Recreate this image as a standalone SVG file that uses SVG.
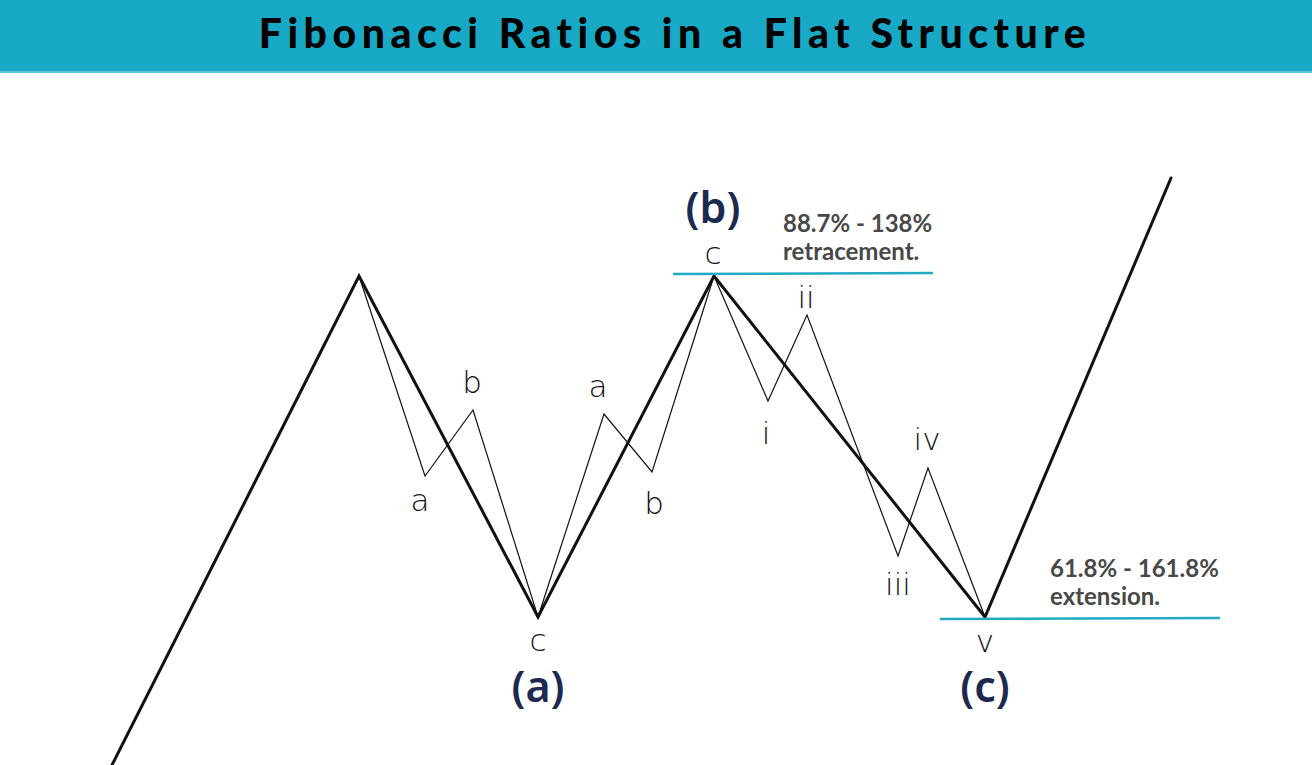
<svg xmlns="http://www.w3.org/2000/svg" width="1312" height="765" viewBox="0 0 1312 765">
<style>
.thick{fill:none;stroke:#111;stroke-width:3;stroke-linejoin:miter;stroke-linecap:round}
.thin{fill:none;stroke:#111;stroke-width:1.2;stroke-linejoin:miter}
.lvl{stroke:#22aac4;stroke-width:2.5}
.sub{font-family:"DejaVu Sans","Liberation Sans",sans-serif;font-weight:200;font-size:31px;fill:#111;text-anchor:middle}
.big{font-family:"Noto Sans","DejaVu Sans",sans-serif;font-weight:600;font-size:43px;fill:#1d2a4f;text-anchor:middle}
.pct{font-family:Lato,"Liberation Sans",sans-serif;font-weight:700;font-size:24px;fill:#484848}
.title{font-family:Lato,"Liberation Sans",sans-serif;font-weight:900;font-size:41px;fill:#000;text-anchor:middle;letter-spacing:5.5px}
</style>
<rect x="0" y="0" width="1312" height="765" fill="#fff"/>
<g id="header">
<rect x="0" y="0" width="1312" height="72" fill="#17a9c5"/>
<rect x="0" y="71" width="1312" height="2" fill="#5fc6da"/>
<text class="title" x="675" y="48">Fibonacci Ratios in a Flat Structure</text>
</g>
<g id="connectors">
<polyline class="thick" points="112,765 359,276 538,617 714,276 985,617 1171,178"/>
<polyline class="thin" points="359,276 425,476 473,410 538,617"/>
<polyline class="thin" points="538,617 604,414 652,472 714,276"/>
<polyline class="thin" points="714,276 768,401 807,315 898,556 928,468 985,617"/>
</g>
<g id="level-b">
<line class="lvl" x1="673" y1="274" x2="933" y2="273"/>
<text class="pct" x="783" y="232">88.7% - 138%</text>
<text class="pct" x="783" y="260">retracement.</text>
</g>
<g id="level-c">
<line class="lvl" x1="940" y1="619" x2="1220" y2="618"/>
<text class="pct" x="1050" y="577">61.8% - 161.8%</text>
<text class="pct" x="1050" y="605">extension.</text>
</g>
<g id="wave-a">
<text class="sub" x="420" y="511">a</text>
<text class="sub" x="472" y="393">b</text>
<text class="sub" x="538" y="651">c</text>
<text class="big" x="538" y="702">(a)</text>
</g>
<g id="wave-b">
<text class="sub" x="598" y="397">a</text>
<text class="sub" x="654" y="514">b</text>
<text class="sub" x="713" y="264">c</text>
<text class="big" x="713" y="223">(b)</text>
</g>
<g id="wave-c">
<text class="sub" x="766" y="444">i</text>
<text class="sub" x="806" y="308">ii</text>
<text class="sub" x="898" y="595">iii</text>
<text class="sub" x="927" y="450">iv</text>
<text class="sub" x="985" y="652">v</text>
<text class="big" x="985" y="702">(c)</text>
</g>
</svg>
